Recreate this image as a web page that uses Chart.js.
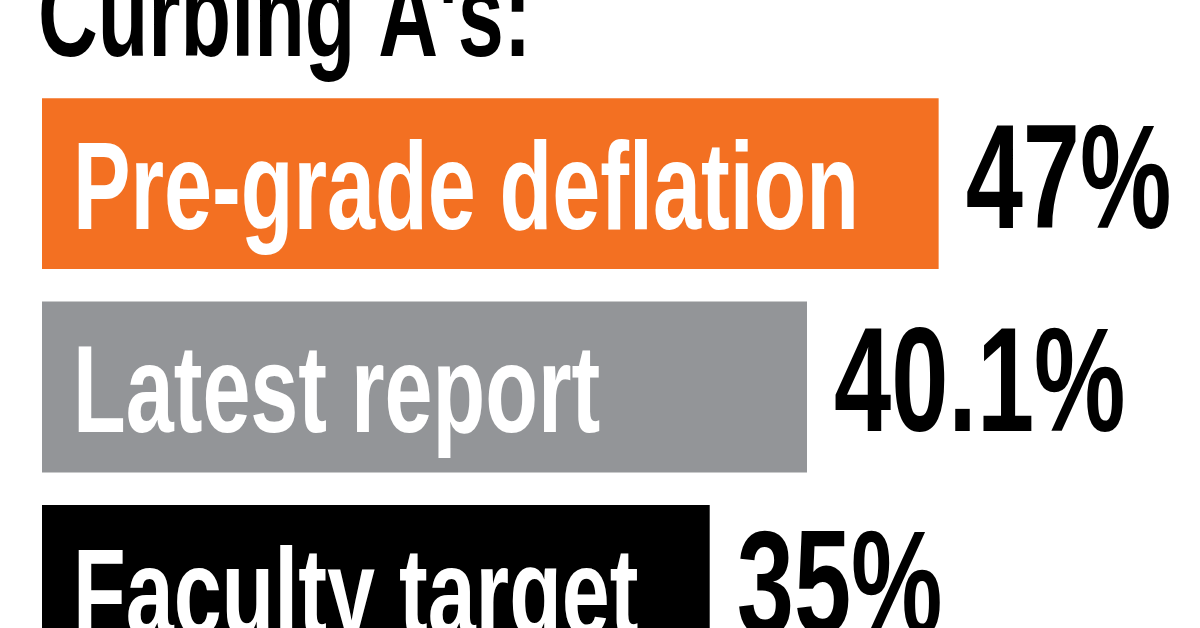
<!DOCTYPE html>
<html>
<head>
<meta charset="utf-8">
<script src="https://cdn.jsdelivr.net/npm/chart.js@4.4.0/dist/chart.umd.min.js"></script>
<style>
  html, body { margin: 0; padding: 0; background: #fff; }
  #wrap { width: 1200px; height: 628px; overflow: hidden; position: relative; }
</style>
</head>
<body>
<div id="wrap">
  <canvas id="gradeChart" width="1200" height="692"></canvas>
</div>
<script>
// Data
var chartTitle = "Curbing A's:";
var categories = ["Pre-grade deflation", "Latest report", "Faculty target"];
var shares = [47, 40.1, 35];
var valueLabels = ["47%", "40.1%", "35%"];

var barColors = ["#F37022", "#939598", "#000000"];

// the original uses a bold condensed face, so squeeze Liberation Sans Bold
var SQUEEZE = 0.69;
var FONT = "'Liberation Sans', Arial, sans-serif";

function drawNarrow(ctx, text, x, y, size, color) {
    ctx.save();
    ctx.font = "bold " + size + "px " + FONT;
    ctx.fillStyle = color;
    ctx.textBaseline = "alphabetic";
    ctx.textAlign = "left";
    ctx.translate(x, y);
    ctx.scale(SQUEEZE, 1);
    ctx.fillText(text, 0, 0);
    ctx.restore();
}

// labels inside bars, values after bars, plus the title
var barLabels = {
    id: 'barLabels',
    afterDatasetsDraw: function(chart) {
        var ctx = chart.ctx;
        var meta = chart.getDatasetMeta(0);
        meta.data.forEach(function(bar, i) {
            drawNarrow(ctx, categories[i], bar.base + 31, bar.y + 45, 125, "#ffffff");
            drawNarrow(ctx, valueLabels[i], bar.x + 27, bar.y + 44, 149, "#000000");
        });
        drawNarrow(ctx, chartTitle, 38, 56, 120, "#000000");
    }
};

var ctx = document.getElementById('gradeChart');
var myChart = new Chart(ctx, {
    type: 'bar',
    data: {
        labels: categories,
        datasets: [{
            data: shares,
            backgroundColor: barColors,
            borderWidth: 0,
            barPercentage: 0.84,
            categoryPercentage: 1.0
        }]
    },
    options: {
        indexAxis: 'y',
        responsive: false,
        animation: false,
        layout: { padding: { left: 42, right: 0, top: 82, bottom: 0 } },
        scales: {
            x: { display: false, min: 0, max: 60.7 },
            y: { display: false }
        },
        plugins: {
            legend: { display: false },
            tooltip: { enabled: false }
        }
    },
    plugins: [barLabels]
});
</script>
</body>
</html>
